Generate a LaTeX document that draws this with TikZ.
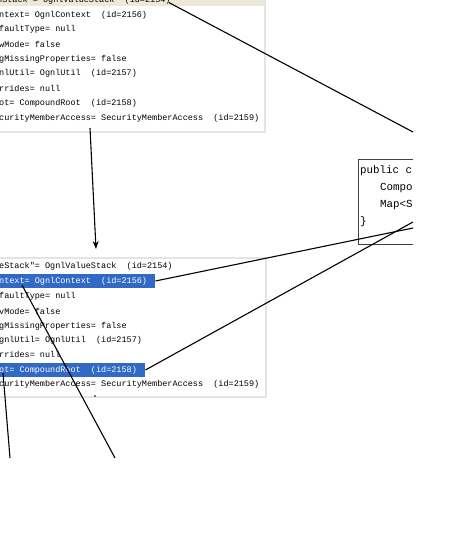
\documentclass[tikz,border=0pt]{standalone}
\usepackage{fontspec}
\newfontfamily\rowfont{Liberation Mono}
\usetikzlibrary{arrows.meta}
\definecolor{selblue}{RGB}{49,106,197}
\definecolor{bandgray}{RGB}{236,233,216}
\definecolor{panelborder}{RGB}{228,228,228}
\begin{document}
\begin{tikzpicture}[x=1pt,y=-1pt,
  row/.style={anchor=west, inner sep=0pt, font=\rowfont\fontsize{8.5}{10}\selectfont},
  selrow/.style={row, text=white},
  selbox/.style={fill=selblue, anchor=west, inner sep=0pt, minimum height=13.5pt},
  code/.style={anchor=west, inner sep=0pt, font=\rowfont\fontsize{10.8}{12}\selectfont},
  link/.style={line width=1.1pt, black},
  panel/.style={draw=panelborder, line width=1.2pt}]
\useasboundingbox (0,0) rectangle (474,550);

% ---------- top panel ----------
\draw[panel] (-3,-3) rectangle (265,132);
\fill[bandgray] (-3,-3) rectangle (264,6);
\node[row] (t0) at (-3,0.5) {nStack = OgnlValueStack\ \ (id=2154)};
\node[row] (t1) at (-1,15) {ntext= OgnlContext\ \ (id=2156)};
\node[row] (t2) at (-1,29) {faultType= null};
\node[row] (t3) at (-1,44) {wMode= false};
\node[row] (t4) at (-1,59) {gMissingProperties= false};
\node[row] (t5) at (-1,73) {nlUtil= OgnlUtil\ \ (id=2157)};
\node[row] (t6) at (-1,88) {rrides= null};
\node[row] (t7) at (-1,103) {ot= CompoundRoot\ \ (id=2158)};
\node[row] (t8) at (-1,118) {curityMemberAccess= SecurityMemberAccess\ \ (id=2159)};

% ---------- bottom panel ----------
\draw[panel] (-3,258) rectangle (266,397);
\node[selbox, minimum width=158pt] (ctxbox) at (-3,281) {};
\node[selbox, minimum width=148pt] (rootbox) at (-3,370) {};
\node[row] (b0) at (-1,266) {eStack"= OgnlValueStack\ \ (id=2154)};
\node[selrow] (b1) at (-1,281) {ntext= OgnlContext\ \ (id=2156)};
\node[row] (b2) at (-1,296) {faultType= null};
\node[row] (b3) at (-1,311) {vMode= false};
\node[row] (b4) at (-1,326) {gMissingProperties= false};
\node[row] (b5) at (-1,340) {gnlUtil= OgnlUtil\ \ (id=2157)};
\node[row] (b6) at (-1,354) {rrides= null};
\node[selrow] (b7) at (-1,370) {ot= CompoundRoot\ \ (id=2158)};
\node[row] (b8) at (-1,384) {curityMemberAccess= SecurityMemberAccess\ \ (id=2159)};
\fill (95,396) circle (0.8);

% ---------- right code box ----------
\draw[line width=1pt, black!75] (413,159) -- (358,159) -- (358,244) -- (413,244);
\node[code] (c1) at (360,171) {public c};
\node[code] (c2) at (380,188) {Compo};
\node[code] (c3) at (380,205) {Map<S};
\node[code] (c4) at (360,222) {\}};

% ---------- connectors ----------
\coordinate (e0) at (413,132);
\coordinate (e1) at (413,228);
\coordinate (e2) at (413,222);
\coordinate (s3) at (22,285);
\coordinate (e3) at (115,458);
\coordinate (s4) at (3,373);
\coordinate (e4) at (10,458);
\coordinate (a0) at (90,128);
\coordinate (a1) at (96,249);

\draw[link] (t0.east) ++(-2,2) -- (e0);
\draw[link] (ctxbox.east) -- (e1);
\draw[link] (rootbox.east) -- (e2);
\draw[link] (s3) -- (e3);
\draw[link] (s4) -- (e4);
\draw[link, -{Stealth[length=8pt,width=6pt]}] (a0) -- (a1);
\end{tikzpicture}
\end{document}
